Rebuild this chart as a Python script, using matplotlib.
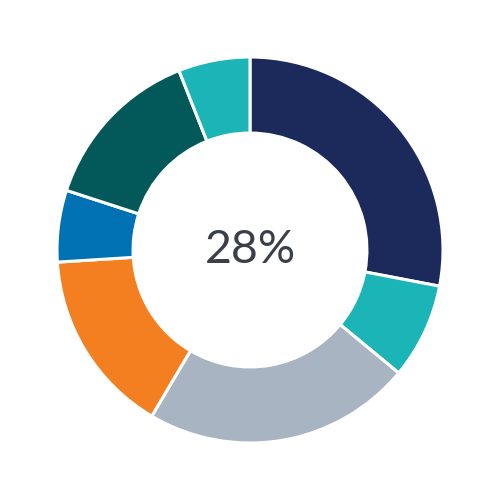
import matplotlib
matplotlib.use('Agg')
import matplotlib.pyplot as plt

# segment shares, clockwise from the top
labels = ["A", "B", "C", "D", "E", "F", "G"]
values = [28, 8, 22.5, 15.5, 6, 14, 6]
colors = ["#1b2a5a", "#1cb5b7", "#a9b4c2", "#f47f20", "#0072b4", "#03595a", "#1cb5b7"]
center_text = "28%"

fig = plt.figure(figsize=(5, 5), dpi=100)
ax = fig.add_axes([0, 0, 1, 1])

ax.pie(values, colors=colors, startangle=90, counterclock=False,
       radius=1.0,
       wedgeprops=dict(width=0.394, edgecolor="white", linewidth=2.2))

ax.text(0, 0, center_text, ha="center", va="center",
        fontsize=33.5, color="#3b4048", family="Lato")

lim = 250 / 193
ax.set_xlim(-lim, lim)
ax.set_ylim(-lim, lim)
ax.set_aspect("equal")
ax.axis("off")

plt.savefig("out.png", dpi=100, facecolor="white")
